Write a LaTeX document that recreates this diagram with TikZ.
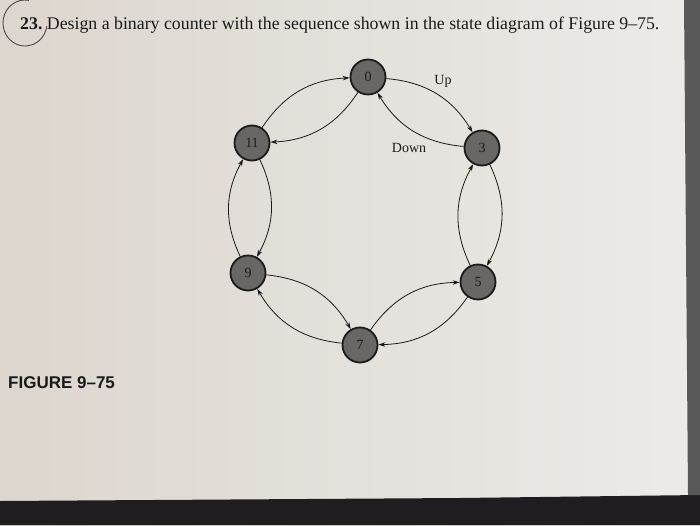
\documentclass[tikz,border=0pt]{standalone}
\usepackage{fontspec}
\setmainfont{Liberation Serif}
\newfontfamily\figsans{Liberation Sans}
\usetikzlibrary{arrows.meta}
\definecolor{paper}{HTML}{DCD6CE}
\definecolor{paperw}{HTML}{ECEBE8}
\definecolor{darkbg}{HTML}{1F1D20}
\definecolor{nodegray}{HTML}{686765}
\definecolor{ink}{HTML}{1A1A1A}
\tikzset{
  state/.style={circle, draw=ink, line width=1.8pt, fill=nodegray, minimum size=35pt, inner sep=0pt, font=\fontsize{14}{14}\selectfont, text=ink},
  trans/.style={draw=ink, line width=0.8pt, -{Stealth[length=7pt,width=4.5pt]}, bend left=27},
  lbl/.style={font=\fontsize{14}{14}\selectfont, text=ink}
}
\begin{document}
\begin{tikzpicture}[x=1pt,y=1pt]
\useasboundingbox (0,0) rectangle (700,525);
% paper and surroundings
\shade[left color=paper, right color=paperw] (0,0) rectangle (700,525);
\fill[darkbg] (0,0) -- (700,0) -- (700,30) -- (460,27) -- (0,24) -- cycle;
\fill[black!65] (688,30) -- (700,30) -- (700,525) -- (684,525) -- cycle;
% hand-drawn circle around the number
\draw[ink!80, line width=0.9pt] (25,502) ++(80:22 and 23) arc[start angle=80, end angle=352, x radius=22, y radius=23];
% title
\node[anchor=base west, inner sep=0pt, font=\fontsize{17.8}{17.8}\selectfont, text=ink] (title) at (20,495)
  {\textbf{23.}\ Design a binary counter with the sequence shown in the state diagram of Figure 9–75.};
\node[anchor=base west, inner sep=0pt, font=\figsans\bfseries\fontsize{17}{17}\selectfont, text=ink] (fig) at (8,137) {FIGURE 9–75};
% states
\node[state] (s0) at (368,448) {0};
\node[state] (s3) at (482,377) {3};
\node[state] (s5) at (478,243) {5};
\node[state] (s7) at (360,180) {7};
\node[state] (s9) at (248,252) {9};
\node[state] (s11) at (252,382) {11};
% up (outer, clockwise)
\draw[trans] (s0) to (s3);
\draw[trans] (s3) to (s5);
\draw[trans] (s5) to (s7);
\draw[trans] (s7) to (s9);
\draw[trans] (s9) to (s11);
\draw[trans] (s11) to (s0);
% down (inner, counterclockwise)
\draw[trans] (s3) to (s0);
\draw[trans] (s5) to (s3);
\draw[trans] (s7) to (s5);
\draw[trans] (s9) to (s7);
\draw[trans] (s11) to (s9);
\draw[trans] (s0) to (s11);
% labels
\node[lbl] (up) at (443,444) {Up};
\node[lbl] (down) at (409,377) {Down};
\end{tikzpicture}
\end{document}
